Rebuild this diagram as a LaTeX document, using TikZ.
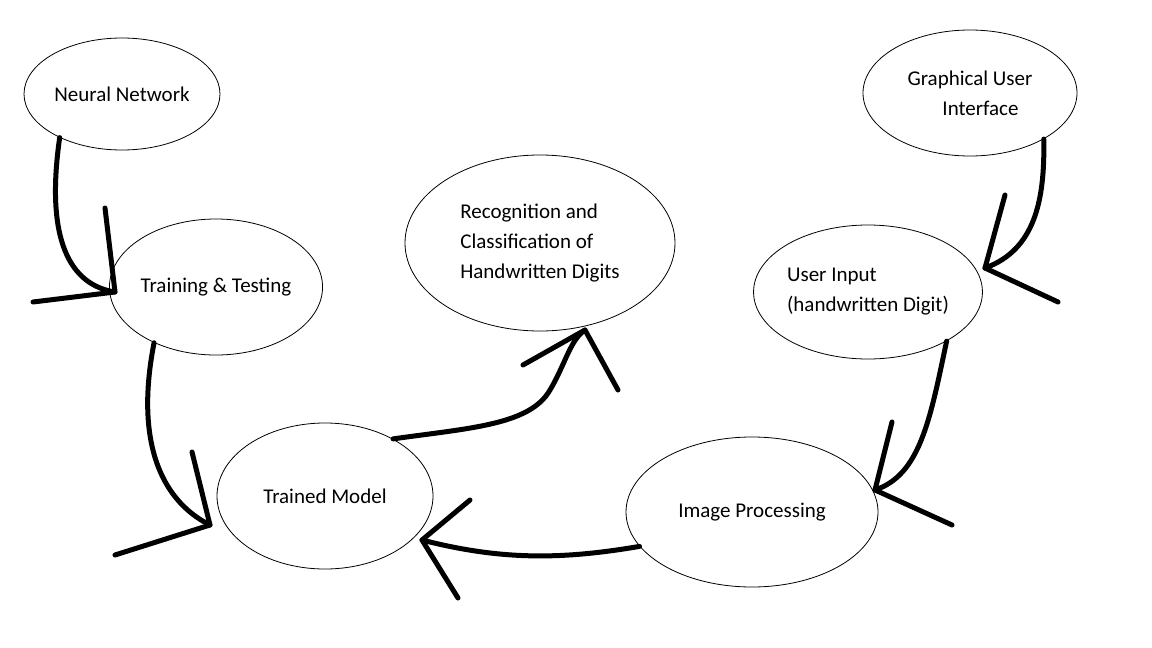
\documentclass[tikz,border=0pt]{standalone}
\usepackage{fontspec}
\setmainfont{Carlito}
\usetikzlibrary{shapes.geometric,positioning}
\begin{document}
\begin{tikzpicture}[x=1pt, y=-1pt,
                    main/.style = {ellipse, draw, line width=0.8pt, font=\fontsize{21}{30}\selectfont, align=left, inner sep=0pt},
                    arr/.style = {line width=5pt, line cap=round, line join=round}]
\useasboundingbox (0,0) rectangle (1152,648);
\node[main, minimum width=196, minimum height=112] (nn) at (122,94) {Neural Network};
\node[main, minimum width=192, minimum height=136] (tt) at (216,287) {Training \& Testing};
\node[main, minimum width=270, minimum height=176] (rc) at (540,243) {Recognition and\\Classification of\\Handwritten Digits};
\node[main, minimum width=214, minimum height=126, align=center] (gui) at (970,93) {Graphical User\\\quad Interface};
\node[main, minimum width=214, minimum height=134] (ui) at (868,292) {User Input\\(handwritten Digit)};
\node[main, minimum width=216, minimum height=146] (tm) at (325,496) {Trained Model};
\node[main, minimum width=252, minimum height=150] (ip) at (752,512) {Image Processing};
% arrow wings
\coordinate (w1a) at (105,208); \coordinate (w1b) at (33,302);
\coordinate (w2a) at (192,452); \coordinate (w2b) at (115,555);
\coordinate (w3a) at (523,365); \coordinate (w3b) at (618,390);
\coordinate (w4a) at (1005,195); \coordinate (w4b) at (1058,302);
\coordinate (w5a) at (892,422); \coordinate (w5b) at (952,525);
\coordinate (w6a) at (470,500); \coordinate (w6b) at (458,598);
\coordinate (t1) at (115,292); \coordinate (t2) at (210,525);
\coordinate (t3) at (585,330); \coordinate (t4) at (985,268);
\coordinate (t5) at (875,490); \coordinate (t6) at (422,540);
\draw[arr] (nn.215) .. controls (45,240) and (70,285) .. (t1);
\draw[arr] (w1a) -- (t1) -- (w1b);
\draw[arr] (tt.222) .. controls (135,440) and (160,500) .. (t2);
\draw[arr] (w2a) -- (t2) -- (w2b);
\draw[arr] (tm.40) .. controls (470,428) and (530,425) .. (550,390) .. controls (565,365) and (570,340) .. (t3);
\draw[arr] (w3a) -- (t3) -- (w3b);
\draw[arr] (gui.328) .. controls (1045,200) and (1035,250) .. (t4);
\draw[arr] (w4a) -- (t4) -- (w4b);
\draw[arr] (ui.328) .. controls (930,420) and (920,475) .. (t5);
\draw[arr] (w5a) -- (t5) -- (w5b);
\draw[arr] (ip.197) .. controls (560,560) and (500,560) .. (t6);
\draw[arr] (w6a) -- (t6) -- (w6b);
\end{tikzpicture}
\end{document}
